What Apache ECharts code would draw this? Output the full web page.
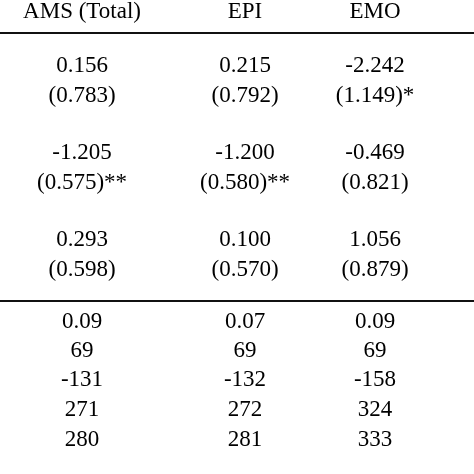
<!DOCTYPE html>
<html>
<head>
<script src="https://cdn.jsdelivr.net/npm/echarts@6/dist/echarts.min.js"></script>
</head>
<body style="margin:0;background:#fff">
<div id="main" style="width:474px;height:474px;"></div>
<script type="text/javascript">
    var myChart = echarts.init(document.getElementById('main'));

    // 表头
    var headers = ['AMS (Total)', 'EPI', 'EMO', '0'];
    // 系数和标准误
    var colAMS = ['0.156', '(0.783)', '-1.205', '(0.575)**', '0.293', '(0.598)'];
    var colEPI = ['0.215', '(0.792)', '-1.200', '(0.580)**', '0.100', '(0.570)'];
    var colEMO = ['-2.242', '(1.149)*', '-0.469', '(0.821)', '1.056', '(0.879)'];
    var col4 = ['0.412', '(0.790)', '-0.917', '(0.574)', '0.301', '(0.612)'];
    // 底部统计量
    var statAMS = ['0.09', '69', '-131', '271', '280'];
    var statEPI = ['0.07', '69', '-132', '272', '281'];
    var statEMO = ['0.09', '69', '-158', '324', '333'];

    var colX = [82, 245, 375, 508];
    var rowY = [66, 96, 153, 183, 240, 270];
    var statY = [322, 351, 380, 410, 440];

    var font = '23px "Liberation Serif", "Times New Roman", serif';
    var elements = [];

    function addText(x, y, s) {
        elements.push({
            type: 'text', x: x, y: y,
            style: { text: s, font: font, fill: '#000', align: 'center', verticalAlign: 'middle' }
        });
    }

    headers.forEach(function (h, i) { addText(colX[i], 12, h); });
    [colAMS, colEPI, colEMO, col4].forEach(function (col, i) {
        col.forEach(function (v, j) { addText(colX[i], rowY[j], v); });
    });
    [statAMS, statEPI, statEMO].forEach(function (col, i) {
        col.forEach(function (v, j) { addText(colX[i], statY[j], v); });
    });

    // 横线
    [33, 301].forEach(function (y) {
        elements.push({
            type: 'line',
            shape: { x1: 0, y1: y, x2: 474, y2: y },
            style: { stroke: '#111', lineWidth: 2 }
        });
    });

    myChart.setOption({ graphic: elements });
</script>
</body>
</html>
